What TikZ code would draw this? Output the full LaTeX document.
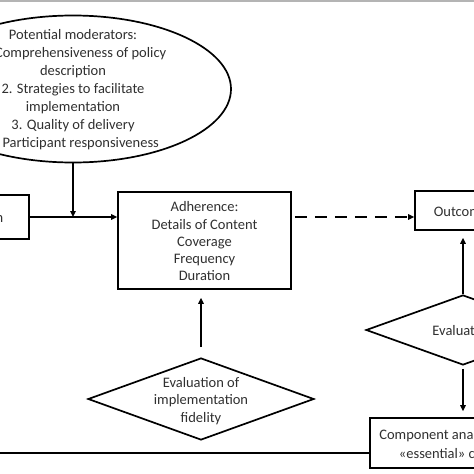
\documentclass[tikz,border=0pt]{standalone}
\usepackage{fontspec}
\setmainfont{Carlito}
\usetikzlibrary{shapes.geometric,arrows.meta}
\newcommand\tb[2][-6pt]{\smash{\raisebox{#1}{\makebox[0pt]{\begin{tabular}{@{}c@{}}#2\end{tabular}}}}}
\definecolor{topgray}{RGB}{180,180,180}
\definecolor{txt}{RGB}{48,48,48}
\tikzset{
  shp/.style={draw=black, line width=1.7pt, inner sep=0pt, text=txt},
  boxnode/.style={shp, rectangle},
  ellnode/.style={shp, ellipse},
  dianode/.style={shp, diamond},
  conn/.style={draw=black, line width=1.5pt},
  arr/.style={conn, -{Triangle[length=6pt,width=5.5pt]}},
}
\begin{document}
\begin{tikzpicture}[x=1pt, y=-1pt, font=\fontsize{14.5}{17.8}\selectfont]
\useasboundingbox (0,0) rectangle (474,474);
\clip (0,0) rectangle (474,474);
\fill[white] (0,0) rectangle (474,474);
\fill[topgray] (0,0) rectangle (474,2.2);
% nodes
\node[ellnode, minimum width=316pt, minimum height=147pt, font=\fontsize{14.5}{18}\selectfont] (mod) at (73,89)
  {\tb[-4.6pt]{Potential moderators:\\1. Comprehensiveness of policy\\description\\2. Strategies to facilitate\\implementation\\3. Quality of delivery\\4. Participant responsiveness}};
\node[boxnode, minimum width=124pt, minimum height=44pt] (intv) at (-33,217) {\tb{Intervention}};
\node[boxnode, minimum width=173pt, minimum height=97pt, font=\fontsize{14.5}{17.2}\selectfont] (adh) at (204.5,240.5)
  {\tb{Adherence:\\Details of Content\\Coverage\\Frequency\\Duration}};
\node[boxnode, minimum width=92pt, minimum height=39pt] (outc) at (461,210.5) {\tb{Outcome}};
\node[dianode, minimum width=226pt, minimum height=82pt] (ldiam) at (201,399)
  {\tb{Evaluation of\\implementation\\fidelity}};
\node[dianode, minimum width=194pt, minimum height=70pt] (rdiam) at (463,330) {\tb{Evaluation}};
\node[boxnode, minimum width=201pt, minimum height=50pt, font=\fontsize{14.5}{18.5}\selectfont] (comp) at (470.5,443)
  {\tb{Component analysis to identify\\«essential» components}};
\coordinate (bl) at (-5,453);
% connectors
\draw[arr] (mod.south) -- (mod.south |- intv.east);
\draw[arr] (intv.east) -- (intv.east -| adh.west);
\draw[arr, dash pattern=on 12pt off 8pt, shorten <=3pt] (adh.east |- intv.east) -- (intv.east -| outc.west);
\draw[arr, shorten <=10pt, shorten >=8pt] (ldiam.north) -- (ldiam.north |- adh.south);
\draw[arr, shorten >=7pt] (rdiam.north) -- (rdiam.north |- outc.south);
\draw[arr, shorten <=3pt, shorten >=6pt] (rdiam.south) -- (rdiam.south |- comp.north);
\draw[conn] (bl) -- (bl -| comp.west);
\end{tikzpicture}
\end{document}
